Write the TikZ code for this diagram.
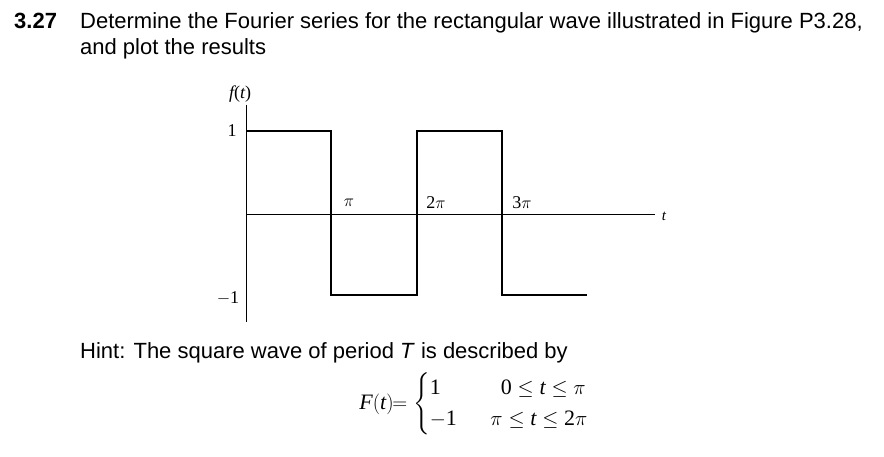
\documentclass[tikz,border=0pt]{standalone}
\usepackage{amsmath}
\usepackage{fontspec}
\setmainfont{Liberation Sans}
\newfontfamily\serif{Liberation Serif}
\newcommand{\myit}[1]{\text{\serif\itshape #1}}
\newcommand{\myrm}[1]{\text{\serif #1}}
\begin{document}
\begin{tikzpicture}[x=1pt,y=-1pt,
  txt/.style={anchor=base west,inner sep=0pt,font=\fontsize{22}{26}\selectfont},
  lab/.style={inner sep=0pt,font=\serif\fontsize{18}{20}\selectfont},
  wave/.style={line width=2.6pt},
  axis/.style={line width=0.9pt}]
\useasboundingbox (0,0) rectangle (884,457);
\node[txt,font=\bfseries\fontsize{22}{26}\selectfont] (num) at (14,29) {3.27};
\node[txt] (l1) at (80,29) {Determine the Fourier series for the rectangular wave illustrated in Figure P3.28,};
\node[txt] (l2) at (80,55) {and plot the results};
\coordinate (o) at (246,214);
\coordinate (vt) at (246,105);
\coordinate (vb) at (246,322);
\coordinate (he) at (655,214);
\draw[axis] (vt) -- (vb);
\draw[axis] (o) -- (he);
\draw[wave] (246,131) -- (331,131) -- (331,295) -- (417,295) -- (417,131) -- (502,131) -- (502,295) -- (587,295);
\node[lab] (ft) at (240,94) {\itshape f\upshape(\itshape t\upshape)};
\node[lab] (one) at (232,131) {1};
\node[lab] (mone) at (228,298) {$-$1};
\node[lab] (p1) at (349,203) {$\pi$};
\node[lab] (p2) at (436,203) {2$\pi$};
\node[lab] (p3) at (522,203) {3$\pi$};
\node[lab,font=\serif\itshape\fontsize{15}{16}\selectfont] (tl) at (664,216) {t};
\node[txt] (hint) at (80,358) {Hint: The square wave of period \textit{T} is described by};
\node[inner sep=0pt,font=\serif\fontsize{22}{26}\selectfont] (eq) at (474,404)
 {$\myit{F}\!\left(\myit{t}\right)\!\!=\begin{cases}\myrm{1} & \quad\myrm{0}\le \myit{t}\le\pi\\ -\myrm{1} & \;\;\pi\le \myit{t}\le \myrm{2}\pi\end{cases}$};
\end{tikzpicture}
\end{document}
